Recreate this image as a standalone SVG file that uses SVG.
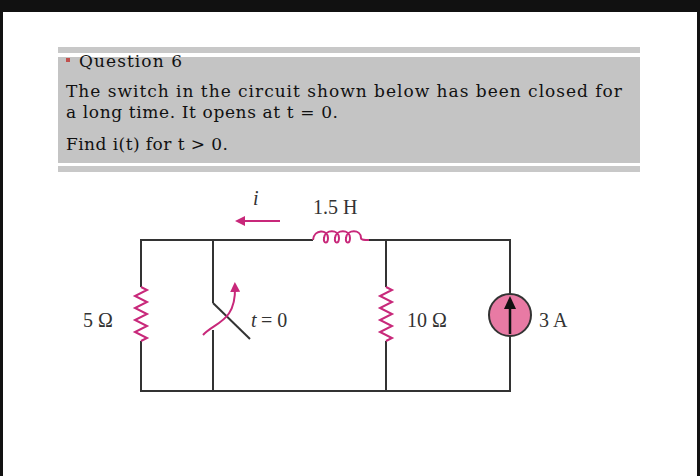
<svg xmlns="http://www.w3.org/2000/svg" width="700" height="476" viewBox="0 0 700 476">
<style>
.w{stroke:#333;stroke-width:2;fill:none}
.p{stroke:#c8287a;stroke-width:2;fill:none}
.q{font-family:"DejaVu Serif",serif;font-size:17px;fill:#111}
.c{font-family:"Liberation Serif",serif;font-size:20px;fill:#333}
</style>
<defs>
<marker id="ah" viewBox="0 0 10 10" refX="5" refY="5" markerWidth="5" markerHeight="5" orient="auto"><path d="M0,0L10,5L0,10z" fill="#c8287a"/></marker>
</defs>
<rect width="700" height="476" fill="#fff"/>
<rect width="700" height="12" fill="#111"/>
<rect x="0" y="0" width="3" height="476" fill="#111"/>
<rect x="697" y="0" width="3" height="476" fill="#111"/>
<g id="header">
<rect x="58" y="47" width="582" height="6" fill="#c8c8c8"/>
<rect x="58" y="57" width="582" height="106" fill="#c4c4c4"/>
<rect x="58" y="166" width="582" height="6" fill="#c8c8c8"/>
<rect x="66" y="58" width="4" height="4" fill="#c0504d"/>
<text class="q" x="79" y="67" textLength="103">Question 6</text>
<text class="q" x="66" y="97" textLength="556">The switch in the circuit shown below has been closed for</text>
<text class="q" x="66" y="118" textLength="272">a long time. It opens at t = 0.</text>
<text class="q" x="66" y="150" textLength="162">Find i(t) for t &gt; 0.</text>
</g>
<g id="connectors">
<path class="w" d="M313,240H141V287M141,341V391H510V336M510,294V240H369M213,240V303M213,330V391M386,240V287M386,341V391"/>
<path class="w" d="M213,303L250,339"/>
</g>
<g id="R5"><path class="p" d="M141,287l6,3l-12,6l12,6l-12,6l12,6l-12,6l12,6l-12,6l12,6l-6,3"/><text class="c" x="83" y="327">5 Ω</text></g>
<g id="R10"><path class="p" d="M386,287l6,3l-12,6l12,6l-12,6l12,6l-12,6l12,6l-12,6l12,6l-6,3"/><text class="c" x="407" y="327">10 Ω</text></g>
<g id="L"><path class="p" d="M313,240C314,229 328,229 328,238C328,244 323,244 324,238C325,229 339,229 339,238C339,244 334,244 335,238C336,229 350,229 350,238C350,244 345,244 346,238C347,229 361,229 361,238C361,240 364,240 369,240"/><text class="c" x="313" y="214">1.5 H</text></g>
<g id="sw"><path class="p" d="M203,335C215,322 236,322 235,287" marker-end="url(#ah)"/><text class="c" x="251" y="327" font-style="italic">t</text><text class="c" x="261" y="327">= 0</text></g>
<g id="src"><circle cx="510" cy="315" r="21" fill="#e87aa4" stroke="#333" stroke-width="2"/><path d="M510,334V306" stroke="#111" stroke-width="2.5"/><path d="M504,309L510,296L516,309z" fill="#111"/><text class="c" x="539" y="327">3 A</text></g>
<g id="cur"><path class="p" d="M280,221H240" marker-end="url(#ah)"/><text class="c" x="253" y="205" font-style="italic">i</text></g>
</svg>
